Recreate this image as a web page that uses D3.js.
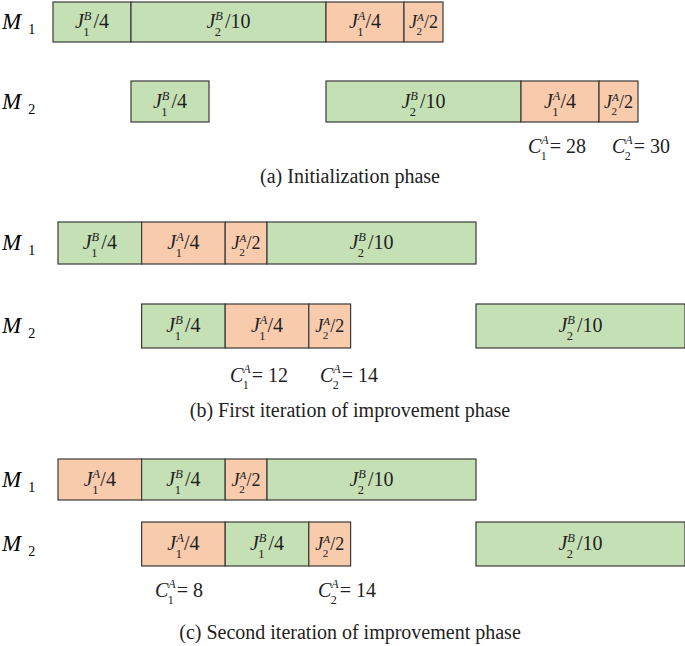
<!DOCTYPE html>
<html><head><meta charset="utf-8">
<script src="https://cdn.jsdelivr.net/npm/d3@7"></script>
<style>body{margin:0;background:#fff}</style>
</head><body>
<div id="chart"></div>
<script>
// tasks: [machine, job, family, start, duration]
const tasksA = [
  [1,1,"B",0,4],[1,2,"B",4,10],[1,1,"A",14,4],[1,2,"A",18,2],
  [2,1,"B",4,4],[2,2,"B",14,10],[2,1,"A",24,4],[2,2,"A",28,2]
]
const tasksB = [
  [1,1,"B",0,4],[1,1,"A",4,4],[1,2,"A",8,2],[1,2,"B",10,10],
  [2,1,"B",4,4],[2,1,"A",8,4],[2,2,"A",12,2],[2,2,"B",20,10]
]
const tasksC = [
  [1,1,"A",0,4],[1,1,"B",4,4],[1,2,"A",8,2],[1,2,"B",10,10],
  [2,1,"A",4,4],[2,1,"B",8,4],[2,2,"A",12,2],[2,2,"B",20,10]
]
const completions = [[28,30],[12,14],[8,14]]
const captions = ["(a)  Initialization phase", "(b) First iteration of improvement phase", "(c) Second iteration of improvement phase"]

const panels = [
  {tasks: tasksA, x0: 53, x1: 638, y1: 2, y2: 81, h1: 40, h2: 41, cy: 153, cx: [528, 612], capy: 183},
  {tasks: tasksB, x0: 58, x1: 685, y1: 222, y2: 304, h1: 42, h2: 44, cy: 382, cx: [230, 320], capy: 417},
  {tasks: tasksC, x0: 58, x1: 685, y1: 459, y2: 522, h1: 41, h2: 44, cy: 597, cx: [155, 318], capy: 639}
]

const colors = {A: "#f8cbad", B: "#c5e0b4"}
const serif = "'Liberation Serif', 'Times New Roman', serif"

const svg = d3.select("#chart").append("svg").attr("width", 685).attr("height", 646)

function jobLabel(t, j, fam, p, fs) {
  t.append("tspan").attr("font-style", "italic").text("J")
  t.append("tspan").attr("font-size", fs * 0.62).attr("dy", -fs * 0.38).attr("font-style", "italic").text(fam)
  t.append("tspan").attr("font-size", fs * 0.62).attr("dx", -fs * 0.4).attr("dy", fs * 0.78).text(j)
  t.append("tspan").attr("dx", fs * (fam === "B" ? 0.2 : 0.1)).attr("dy", -fs * 0.4).text("/" + p)
}

panels.forEach((P, i) => {
  const x = d3.scaleLinear().domain([0, 30]).range([P.x0, P.x1])
  const g = svg.append("g")
  // machine labels
  ;[1, 2].forEach(m => {
    const yy = m === 1 ? P.y1 + P.h1 / 2 : P.y2 + P.h2 / 2
    const t = g.append("text").attr("x", 2).attr("y", yy + 7)
      .attr("font-family", serif).attr("font-size", 23)
    t.append("tspan").attr("font-style", "italic").text("M")
    t.append("tspan").attr("font-size", 14).attr("dx", 7).attr("dy", 5).text(m)
  })
  const bars = g.selectAll(".task").data(P.tasks).join("g")
  bars.append("rect")
    .attr("x", d => x(d[3]))
    .attr("y", d => d[0] === 1 ? P.y1 : P.y2)
    .attr("width", d => x(d[3] + d[4]) - x(d[3]))
    .attr("height", d => d[0] === 1 ? P.h1 : P.h2)
    .attr("fill", d => colors[d[2]])
    .attr("stroke", "#3a3a3a").attr("stroke-width", 1.2)
  bars.append("text")
    .attr("x", d => x(d[3] + d[4] / 2))
    .attr("y", d => (d[0] === 1 ? P.y1 + P.h1 / 2 : P.y2 + P.h2 / 2) + 6)
    .attr("text-anchor", "middle")
    .attr("font-family", serif).attr("font-size", d => d[4] === 2 ? 18 : 20)
    .attr("fill", "#222")
    .each(function (d) { jobLabel(d3.select(this), d[1], d[2], d[4], d[4] === 2 ? 18 : 20) })
  // completion times
  completions[i].forEach((c, k) => {
    const t = g.append("text").attr("x", P.cx[k]).attr("y", P.cy)
      .attr("font-family", serif).attr("font-size", 20).attr("fill", "#222")
    t.append("tspan").attr("font-style", "italic").text("C")
    t.append("tspan").attr("font-size", 12).attr("font-style", "italic").attr("dy", -9).text("A")
    t.append("tspan").attr("font-size", 12).attr("dx", -8).attr("dy", 16).text(k + 1)
    t.append("tspan").attr("dx", 3).attr("dy", -7).text("= " + c)
  })
  g.append("text").attr("x", 350).attr("y", P.capy).attr("text-anchor", "middle")
    .attr("font-family", serif).attr("font-size", 20).attr("fill", "#222").text(captions[i])
})
</script>
</body></html>
